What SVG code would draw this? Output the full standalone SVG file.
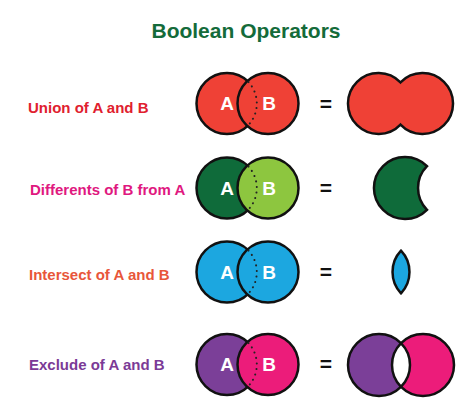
<svg xmlns="http://www.w3.org/2000/svg" width="474" height="407" viewBox="0 0 474 407">
<style>
.lbl{font-family:"Liberation Sans",Arial,sans-serif;font-weight:bold;font-size:15px}
.ab{font-family:"Liberation Sans",Arial,sans-serif;font-weight:bold;font-size:19px;fill:#fff;text-anchor:middle}
.eq{font-family:"Liberation Sans",Arial,sans-serif;font-weight:bold;font-size:21px;fill:#111;text-anchor:middle}
.st{stroke:#111;stroke-width:2.5}
.dot{fill:none;stroke:#222;stroke-width:2;stroke-dasharray:0.1 5.5;stroke-linecap:round}
</style>
<rect width="474" height="407" fill="#fff"/>
<text x="246" y="38" text-anchor="middle" style="font-family:'Liberation Sans',Arial,sans-serif;font-weight:bold;font-size:21px;fill:#146b3a">Boolean Operators</text>

<g id="row-union">
<text class="lbl" x="28" y="113" fill="#e0202e">Union of A and B</text>
<circle class="st" cx="227" cy="103.5" r="30.5" fill="#ef4136"/>
<circle class="st" cx="268" cy="103.5" r="30.5" fill="#ef4136"/>
<path class="dot" d="M 248.5 82 A 32 32 0 0 1 248.5 125"/>
<text class="ab" x="227" y="110">A</text>
<text class="ab" x="269" y="110">B</text>
<text class="eq" x="326" y="111">=</text>
<path class="st" fill="#ef4136" d="M 400.5 82.4 A 30.5 30.5 0 1 1 400.5 124.6 A 30.5 30.5 0 1 1 400.5 82.4 Z"/>
</g>

<g id="row-difference">
<text class="lbl" x="30" y="195" fill="#e0187f">Differents of B from A</text>
<circle class="st" cx="227" cy="188" r="30.5" fill="#0f6b3a"/>
<circle class="st" cx="268" cy="188" r="30.5" fill="#8dc63f"/>
<path class="dot" d="M 248.5 166.5 A 32 32 0 0 1 248.5 209.5"/>
<text class="ab" x="227" y="195">A</text>
<text class="ab" x="269" y="195">B</text>
<text class="eq" x="326" y="195">=</text>
<path class="st" fill="#0f6b3a" d="M 427 166.2 A 31 31 0 1 0 427 209.8 A 31 31 0 0 1 427 166.2 Z"/>
</g>

<g id="row-intersect">
<text class="lbl" x="29" y="280" fill="#e8563a">Intersect of A and B</text>
<circle class="st" cx="227" cy="272" r="30.5" fill="#1ca7e0"/>
<circle class="st" cx="268" cy="272" r="30.5" fill="#1ca7e0"/>
<path class="dot" d="M 248.5 250.5 A 32 32 0 0 1 248.5 293.5"/>
<text class="ab" x="227" y="279">A</text>
<text class="ab" x="269" y="279">B</text>
<text class="eq" x="326" y="279">=</text>
<path class="st" fill="#1ca7e0" d="M 401 250.7 A 31 31 0 0 1 401 293.3 A 31 31 0 0 1 401 250.7 Z"/>
</g>

<g id="row-exclude">
<text class="lbl" x="29" y="370" fill="#7b3a96">Exclude of A and B</text>
<circle class="st" cx="227" cy="364.5" r="30.5" fill="#7b3f98"/>
<circle class="st" cx="268" cy="364.5" r="30.5" fill="#ec1c7a"/>
<path class="dot" d="M 248.5 343 A 32 32 0 0 1 248.5 386"/>
<text class="ab" x="227" y="371">A</text>
<text class="ab" x="269" y="371">B</text>
<text class="eq" x="326" y="371">=</text>
<circle cx="379" cy="365" r="31" fill="#7b3f98"/>
<circle cx="423" cy="365" r="31" fill="#ec1c7a"/>
<path fill="#fff" d="M 401 343.2 A 31 31 0 0 1 401 386.8 A 31 31 0 0 1 401 343.2 Z"/>
<circle class="st" cx="379" cy="365" r="31" fill="none"/>
<circle class="st" cx="423" cy="365" r="31" fill="none"/>
</g>
</svg>
